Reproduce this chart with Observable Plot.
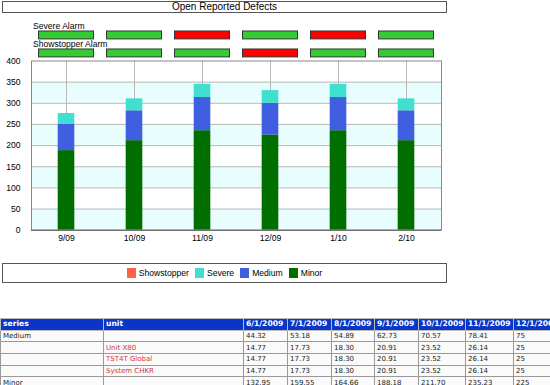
<!DOCTYPE html>
<html>
<head>
<meta charset="utf-8">
<script src="https://cdn.jsdelivr.net/npm/d3@7"></script>
<script src="https://cdn.jsdelivr.net/npm/@observablehq/plot@0.6"></script>
<style>
  html, body { margin: 0; padding: 0; overflow: hidden; background: #fff; }
  #root { position: relative; width: 550px; height: 385px; overflow: hidden; font-family: "Liberation Sans", Arial, sans-serif; }
  .abs { position: absolute; }
  #title { left: 2px; top: 1px; width: 443px; height: 10px; border: 1px solid #555; font-size: 10px; line-height: 10px; text-align: center; color: #000; padding-right: 0; }
  #legend { left: 2px; top: 263px; width: 443px; height: 18px; border: 1px solid #555; display: flex; align-items: center; justify-content: center; font-size: 8.6px; color: #000; }
  #legend .item { display: flex; align-items: center; margin: 0 3px; }
  #legend .sw { width: 9px; height: 10px; margin-right: 3px; }
  #tbl { left: 0; top: 318px; border-collapse: collapse; table-layout: fixed; font-family: "DejaVu Sans", Verdana, sans-serif; font-size: 7px; color: #222; }
  #tbl td, #tbl th { border: 1px solid #999; padding: 0 2px; height: 10.7px; line-height: 10px; white-space: nowrap; overflow: hidden; text-align: left; }
  #tbl th { background: #0a36c8; color: #fff; font-weight: bold; font-size: 7.6px; border-color: #bbb; }
  #tbl td.unit { color: #d03838; }
  #tbl td { background: #fafafa; }
</style>
</head>
<body>
<div id="root"></div>
<script>
// ---- chart data ----
const months = ["9/09", "10/09", "11/09", "12/09", "1/10", "2/10"];
const minor = [188.18, 211.70, 235.23, 225, 235.23, 211.70];
const medium = [62.73, 70.57, 78.41, 75, 78.41, 70.57];
const severe = [25.09, 28.23, 31.36, 30, 31.36, 28.23];
const showstopper = [0, 0, 0, 0, 0, 0];
const seriesNames = ["Showstopper", "Severe", "Medium", "Minor"];
const seriesColors = ["#ff6347", "#40e0d0", "#3f5fe0", "#006f00"];
const yTicks = [0, 50, 100, 150, 200, 250, 300, 350, 400];
const bandStarts = [0, 100, 200, 300];
const alarmNames = ["Severe Alarm", "Showstopper Alarm"];
const severeAlarm = ["ok", "ok", "alarm", "ok", "alarm", "ok"];
const showstopperAlarm = ["ok", "ok", "ok", "alarm", "ok", "ok"];

// ---- table data ----
const tableHeader = ["series", "unit"];
const tableMonths = ["6/1/2009", "7/1/2009", "8/1/2009", "9/1/2009", "10/1/2009", "11/1/2009", "12/1/2009"];
const tableMedium = ["44.32", "53.18", "54.89", "62.73", "70.57", "78.41", "75"];
const tableUnitVals = ["14.77", "17.73", "18.30", "20.91", "23.52", "26.14", "25"];
const tableMinor = ["132.95", "159.55", "164.66", "188.18", "211.70", "235.23", "225"];
const units = ["Unit X80", "TST4T Global", "System CHKR"];
const colWidths = [103, 140, 44, 44, 43, 44, 47, 48, 48];

const root = document.getElementById("root");

// title
const title = document.createElement("div");
title.className = "abs"; title.id = "title";
title.textContent = "Open Reported Defects";
root.appendChild(title);

// stacked rows (bottom first)
const rows = [];
const seriesVals = {Minor: minor, Medium: medium, Severe: severe, Showstopper: showstopper};
["Minor", "Medium", "Severe", "Showstopper"].forEach(s => {
  months.forEach((m, i) => rows.push({month: m, series: s, value: seriesVals[s][i]}));
});
const bands = bandStarts.map(b => ({lo: b, hi: b + 50}));
const grid = yTicks.filter(t => t > 0 && t < 400);

const chart = Plot.plot({
  width: 550, height: 255,
  marginTop: 60.5, marginBottom: 25.3, marginLeft: 31, marginRight: 109,
  style: {background: "transparent", fontFamily: "'Liberation Sans', Arial, sans-serif", fontSize: "8.6px", color: "#000"},
  x: {domain: months, padding: 0, label: null, tickSize: 0, tickPadding: 5},
  y: {domain: [0, 400], ticks: yTicks, label: null, tickSize: 0, tickPadding: 11},
  color: {domain: seriesNames, range: seriesColors},
  marks: [
    Plot.rect(bands, {y1: "lo", y2: "hi", fill: "#e8fdfd"}),
    Plot.ruleY(grid, {stroke: "#b8b8b8"}),
    Plot.ruleX(months, {x: d => d, y1: 0, y2: 400, stroke: "#b8b8b8"}),
    Plot.barY(rows, {x: "month", y: "value", fill: "series", insetLeft: 25.7, insetRight: 25.7}),
    Plot.frame({stroke: "#888"}),
    Plot.ruleY([0], {stroke: "#555"})
  ]
});
chart.style.position = "absolute"; chart.style.left = "0px"; chart.style.top = "0px";
root.appendChild(chart);

// alarms
const alarmRows = [];
months.forEach((m, i) => {
  alarmRows.push({month: m, alarm: alarmNames[0], state: severeAlarm[i]});
  alarmRows.push({month: m, alarm: alarmNames[1], state: showstopperAlarm[i]});
});
const alarms = Plot.plot({
  width: 550, height: 62.2,
  marginTop: 25, marginBottom: 0, marginLeft: 31, marginRight: 109,
  style: {background: "transparent", fontFamily: "'Liberation Sans', Arial, sans-serif", fontSize: "8.6px", color: "#000", overflow: "visible"},
  x: {domain: months, padding: 0, axis: null},
  y: {domain: alarmNames, padding: 0, axis: null},
  color: {domain: ["ok", "alarm"], range: ["#33cc33", "#ff0000"]},
  marks: [
    Plot.cell(alarmRows, {x: "month", y: "alarm", fill: "state", stroke: "#333", insetLeft: 6.5, insetRight: 6.5, insetTop: 5, insetBottom: 5.1}),
    Plot.text(alarmNames, {y: d => d, text: d => d, frameAnchor: "left", textAnchor: "start", dx: 1.5, dy: -9.6, fill: "#000"})
  ]
});
alarms.style.position = "absolute"; alarms.style.left = "0px"; alarms.style.top = "0px";
root.appendChild(alarms);

// legend
const legend = document.createElement("div");
legend.className = "abs"; legend.id = "legend";
seriesNames.forEach((s, i) => {
  const it = document.createElement("div"); it.className = "item";
  const sw = document.createElement("div"); sw.className = "sw"; sw.style.background = seriesColors[i];
  const tx = document.createElement("span"); tx.textContent = s;
  it.appendChild(sw); it.appendChild(tx); legend.appendChild(it);
});
root.appendChild(legend);

// table
const tbl = document.createElement("table");
tbl.className = "abs"; tbl.id = "tbl";
const cg = document.createElement("colgroup");
colWidths.forEach(w => { const c = document.createElement("col"); c.style.width = w + "px"; cg.appendChild(c); });
tbl.appendChild(cg);
tbl.style.width = colWidths.reduce((a, b) => a + b, 0) + "px";
function addRow(cells, header, unitCol) {
  const tr = document.createElement("tr");
  cells.forEach((v, j) => {
    const c = document.createElement(header ? "th" : "td");
    c.textContent = v;
    if (unitCol && j === 1) c.className = "unit";
    tr.appendChild(c);
  });
  tbl.appendChild(tr);
}
addRow([...tableHeader, ...tableMonths], true);
addRow(["Medium", "", ...tableMedium], false);
units.forEach(u => addRow(["", u, ...tableUnitVals], false, true));
addRow(["Minor", "", ...tableMinor], false);
root.appendChild(tbl);
</script>
</body>
</html>
